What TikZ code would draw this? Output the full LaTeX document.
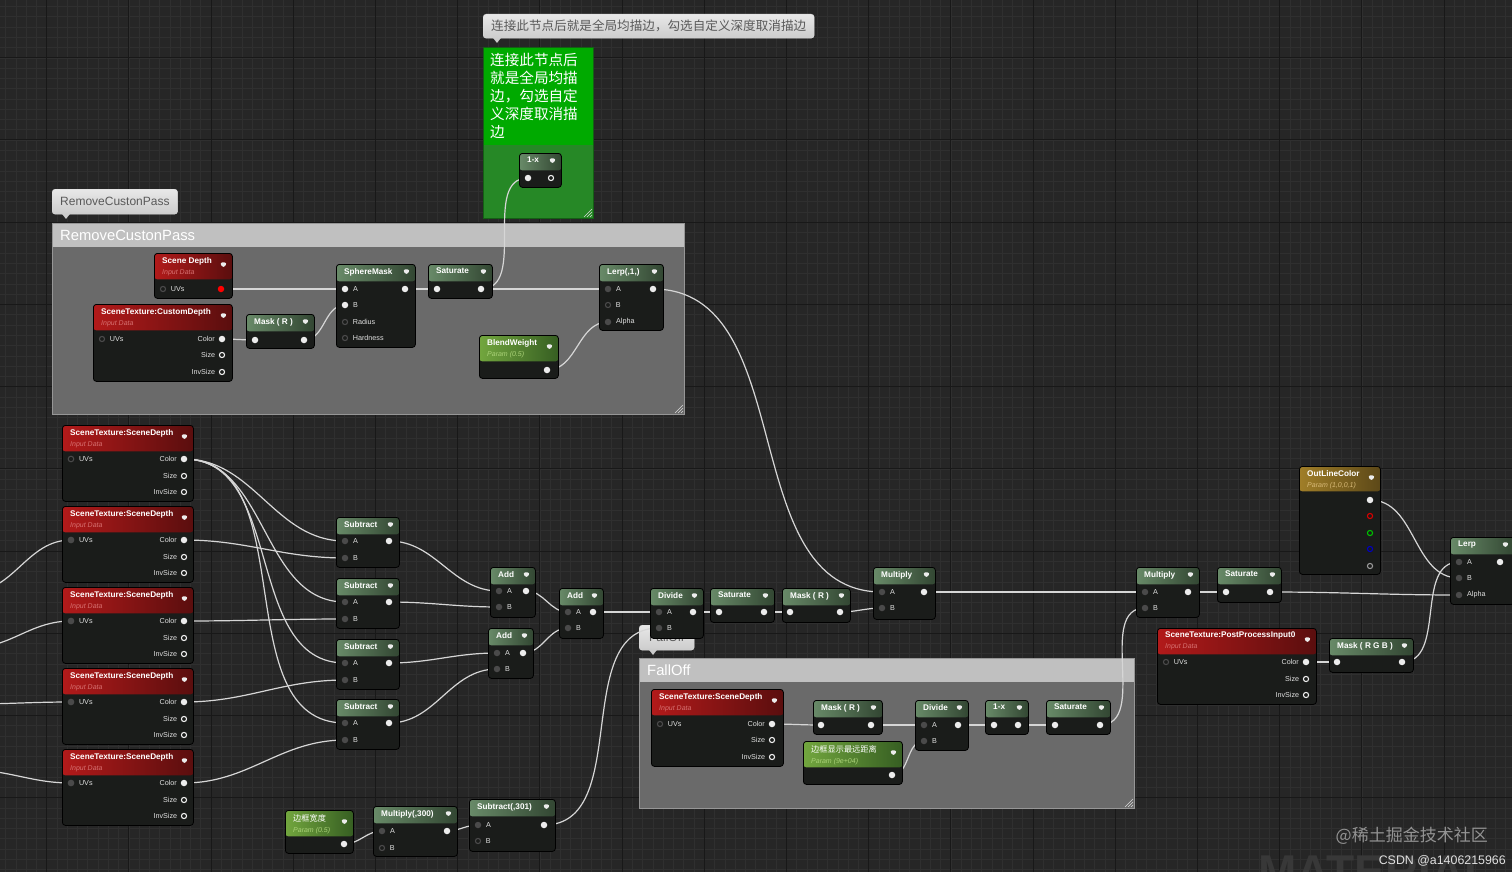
\documentclass[tikz,border=0pt]{standalone}
\usepackage{fontspec}
\setmainfont{Liberation Sans}
\newfontfamily\cjk{Noto Sans CJK SC}
\usetikzlibrary{positioning}

\pgfdeclarelayer{back}
\pgfdeclarelayer{wires}
\pgfsetlayers{back,wires,main}

% --- kleuren ---
\definecolor{bgc}{RGB}{38,38,38}
\definecolor{gridmin}{RGB}{47,47,47}
\definecolor{gridmaj}{RGB}{24,24,24}
\definecolor{nodebg}{RGB}{26,28,26}
\definecolor{mgL}{RGB}{104,138,104}
\definecolor{mgR}{RGB}{50,70,50}
\definecolor{rdL}{RGB}{178,26,26}
\definecolor{rdR}{RGB}{90,14,14}
\definecolor{pgL}{RGB}{114,166,62}
\definecolor{pgR}{RGB}{54,94,34}
\definecolor{gdL}{RGB}{160,126,40}
\definecolor{gdR}{RGB}{92,72,24}
\definecolor{subred}{RGB}{214,112,112}
\definecolor{subgrn}{RGB}{170,210,120}
\definecolor{subgld}{RGB}{216,186,120}
\definecolor{pinw}{RGB}{236,236,236}
\definecolor{pind}{RGB}{74,74,74}
\definecolor{wirec}{RGB}{214,214,214}
\definecolor{cmtbody}{RGB}{106,106,106}
\definecolor{cmthead}{RGB}{192,192,192}
\definecolor{cmtedge}{RGB}{150,150,150}
\definecolor{bubtop}{RGB}{232,232,232}
\definecolor{bubbot}{RGB}{204,204,204}
\definecolor{grnTop}{RGB}{0,170,0}
\definecolor{grnBot}{RGB}{38,136,38}
\definecolor{grnEdge}{RGB}{20,96,20}
\definecolor{wmark}{RGB}{56,56,56}

\newcommand{\ttlfnt}{\fontsize{8.2}{11}\selectfont\bfseries}
\newcommand{\subtfnt}{\fontsize{7}{11}\selectfont\mdseries\itshape}
\newcommand{\pinfnt}{\fontsize{7.2}{8}\selectfont}

\begin{document}
\begin{tikzpicture}[x=1pt, y=-1pt,
    % node lichaam + kop
    mbody/.style={rectangle, rounded corners=3pt, draw=black, line width=0.8pt, fill=nodebg,
                  anchor=north west, inner sep=0pt},
    hdr/.style n args={4}{path picture={
        \shade[left color=#2, right color=#3] (path picture bounding box.north west)
              rectangle ([yshift=-#1]path picture bounding box.north east);
        \fill[white!85!gray] ([xshift=-13pt,yshift=-#4]path picture bounding box.north east)
              -- ++(8pt,0pt) -- ++(-4pt,-6pt) -- cycle;}},
    mathnode/.style={mbody, hdr={17pt}{mgL}{mgR}{5pt}},
    texnode/.style={mbody, hdr={26pt}{rdL}{rdR}{9pt}},
    parnode/.style={mbody, hdr={26pt}{pgL}{pgR}{9pt}},
    vecnode/.style={mbody, hdr={25pt}{gdL}{gdR}{9pt}},
    ttlbox/.style={anchor=north west, inner sep=0pt, xshift=8pt, yshift=-4pt, font=\ttlfnt,
                   text=white, align=left},
    ttl/.style={label={[ttlbox]north west:{#1}}},
    ttl2/.style n args={3}{label={[ttlbox]north west:{#2\\\textcolor{#1}{\subtfnt #3}}}},
    % pinnen
    sock/.style={circle, inner sep=0pt, minimum size=6.5pt},
    sout/.style={sock, fill=pinw},
    south/.style={sock, draw=pinw, fill=nodebg, line width=1.1pt, minimum size=5.2pt},
    sin/.style={sock, fill=pind},
    sinw/.style={sock, fill=pinw},
    sinh/.style={sock, draw=pind, fill=nodebg, line width=1.1pt, minimum size=5.2pt},
    plblr/.style={anchor=west, inner sep=0pt, xshift=4.5pt, font=\pinfnt, text=white!88!black},
    plbll/.style={anchor=east, inner sep=0pt, xshift=-3.5pt, font=\pinfnt, text=white!88!black},
    inl/.style={label={[plblr]east:{#1}}},
    outl/.style={label={[plbll]west:{#1}}},
    % commentaar
    grpbox/.style={rectangle, anchor=north west, inner sep=0pt, draw=cmtedge, line width=1pt,
                   fill=cmtbody, path picture={\fill[cmthead] (path picture bounding box.north west)
                   rectangle ([yshift=-23pt]path picture bounding box.north east);}},
    grpttl/.style={label={[anchor=north west, inner sep=0pt, xshift=8pt, yshift=-7pt,
                   font=\fontsize{14.8}{16}\selectfont, text=white]north west:{#1}}},
    bubble/.style={rectangle, rounded corners=3pt, top color=bubtop, bottom color=bubbot,
                   draw=white!75!gray, anchor=north west, inner xsep=8pt, minimum height=25pt,
                   font=\fontsize{12}{13}\selectfont, text=black!65},
    gcom/.style={rectangle, anchor=north west, inner sep=0pt, fill=grnBot, draw=grnEdge, line width=1pt,
                 path picture={\fill[grnTop] (path picture bounding box.north west)
                 rectangle ([yshift=-98pt]path picture bounding box.north east);}},
    grip/.style={white!70!gray, line width=0.5pt},
    wire/.style={draw=wirec, line width=1.2pt}
]

\useasboundingbox (0,0) rectangle (1512,872);
\clip (0,0) rectangle (1512,872);

% --- achtergrond + raster ---
\begin{pgfonlayer}{back}
\fill[bgc] (0,0) rectangle (1512,872);
\foreach \i in {0,...,147} \draw[gridmin, line width=0.5pt] (5.5+\i*10.275,0) -- ++(0,872);
\foreach \i in {0,...,85} \draw[gridmin, line width=0.5pt] (0,6.4+\i*10.275) -- ++(1512,0);
\foreach \i in {0,...,18} \draw[gridmaj, line width=1pt] (46.6+\i*82.2,0) -- ++(0,872);
\foreach \i in {0,...,10} \draw[gridmaj, line width=1pt] (0,57.8+\i*82.2) -- ++(1512,0);

% --- commentaarblokken ---
\node[grpbox, minimum width=632pt, minimum height=191pt, grpttl=RemoveCustonPass] (grpRC) at (52,223) {};
\node[grpbox, minimum width=495pt, minimum height=150pt, grpttl=FallOff] (grpFO) at (639,658) {};
\node[gcom, minimum width=110pt, minimum height=171pt,
      label={[anchor=north west, inner sep=0pt, xshift=7pt, yshift=-6pt, text=white, align=left,
              font=\cjk\fontsize{14.6}{18}\selectfont]north west:{连接此节点后\\就是全局均描\\边，勾选自定\\义深度取消描\\边}}] (gcmt) at (483,47) {};
\foreach \g in {grpRC,grpFO,gcmt}
  \foreach \k in {4,7,10} \draw[grip] ([xshift=-\k pt, yshift=2pt]\g.south east) -- ([xshift=-2pt, yshift=\k pt]\g.south east);

\node[bubble] (bubRC) at (52,189) {RemoveCustonPass};
\node[bubble, minimum width=55pt] (bubFO) at (639,625) {FallOff};
\node[bubble, font=\cjk\fontsize{12.6}{15}\selectfont, minimum height=24pt] (bubTop) at (483,14) {连接此节点后就是全局均描边，勾选自定义深度取消描边};
\foreach \b in {bubRC,bubFO,bubTop}
  \fill[bubbot] ([xshift=10pt, yshift=0.5pt]\b.south west) -- ++(8pt,0pt) -- ++(-4pt,-5pt) -- cycle;
\end{pgfonlayer}

% --- RemoveCustonPass ---
\node[texnode, minimum width=78pt, minimum height=45pt, ttl2={subred}{Scene Depth}{Input Data}] (sdep) at (154,253) {};
\node[sinh, inl=UVs] (sdepu) at (163,289) {};
\node[sock, fill=red] (sdepo) at (221,289) {};

\node[texnode, minimum width=139pt, minimum height=77pt, ttl2={subred}{SceneTexture:CustomDepth}{Input Data}] (cdep) at (93,304) {};
\node[sinh, inl=UVs] (cdepu) at (102,339) {};
\node[sout, outl=Color] (cdepc) at (222,339) {};
\node[south, outl=Size] (cdeps) at (222,355) {};
\node[south, outl=InvSize] (cdepi) at (222,372) {};

\node[mathnode, minimum width=68pt, minimum height=34pt, ttl={Mask ( R )}] (mskr) at (246,314) {};
\node[sinw] (mskri) at (255,340) {};
\node[sout] (mskro) at (304,340) {};

\node[mathnode, minimum width=79pt, minimum height=83pt, ttl=SphereMask] (sphm) at (336,264) {};
\node[sinw, inl=A] (sphma) at (345,289) {};
\node[sinw, inl=B] (sphmb) at (345,305) {};
\node[sinh, inl=Radius] (sphmr) at (345,322) {};
\node[sinh, inl=Hardness] (sphmh) at (345,338) {};
\node[sout] (sphmo) at (405,289) {};

\node[mathnode, minimum width=64pt, minimum height=34pt, ttl=Saturate] (satA) at (428,264) {};
\node[sinw] (satAi) at (437,289) {};
\node[sout] (satAo) at (481,289) {};

\node[mathnode, minimum width=64pt, minimum height=66pt, ttl={Lerp(,1,)}] (lerpA) at (599,264) {};
\node[sin, inl=A] (lerpAa) at (608,289) {};
\node[sinh, inl=B] (lerpAb) at (608,305) {};
\node[sin, inl=Alpha] (lerpAal) at (608,322) {};
\node[sout] (lerpAo) at (653,289) {};

\node[parnode, minimum width=79pt, minimum height=43pt, ttl2={subgrn}{BlendWeight}{Param (0.5)}] (bw) at (479,335) {};
\node[sout] (bwo) at (547,370) {};

\node[mathnode, minimum width=42pt, minimum height=34pt, ttl=1-x] (omx) at (519,153) {};
\node[sinw] (omxi) at (528,178) {};
\node[south] (omxo) at (551,178) {};

% --- SceneDepth kolom ---
\foreach \n/\t/\uf in {1/425/nodebg,2/506/pind,3/587/pind,4/668/pind,5/749/pind} {
  \node[texnode, minimum width=131pt, minimum height=76pt, ttl2={subred}{SceneTexture:SceneDepth}{Input Data}] (sd\n) at (62,\t) {};
  \node[sock, fill=\uf, draw=pind, line width=1pt, minimum size=5.6pt, inl=UVs] (sd\n u) at (71,\t+34) {};
  \node[sout, outl=Color] (sd\n c) at (184,\t+34) {};
  \node[south, outl=Size] (sd\n s) at (184,\t+51) {};
  \node[south, outl=InvSize] (sd\n i) at (184,\t+67) {};
}

\foreach \n/\t in {1/517,2/578,3/639,4/699} {
  \node[mathnode, minimum width=63pt, minimum height=50pt, ttl=Subtract] (sub\n) at (336,\t) {};
  \node[sin, inl=A] (sub\n a) at (345,\t+24) {};
  \node[sin, inl=B] (sub\n b) at (345,\t+41) {};
  \node[sout] (sub\n o) at (389,\t+24) {};
}

\node[mathnode, minimum width=45pt, minimum height=50pt, ttl=Add] (add1) at (490,567) {};
\node[sin, inl=A] (add1a) at (499,591) {};
\node[sin, inl=B] (add1b) at (499,607) {};
\node[sout] (add1o) at (526,591) {};

\node[mathnode, minimum width=45pt, minimum height=50pt, ttl=Add] (add2) at (488,628) {};
\node[sin, inl=A] (add2a) at (497,653) {};
\node[sin, inl=B] (add2b) at (497,669) {};
\node[sout] (add2o) at (523,653) {};

\node[mathnode, minimum width=44pt, minimum height=50pt, ttl=Add] (add3) at (559,588) {};
\node[sin, inl=A] (add3a) at (568,612) {};
\node[sin, inl=B] (add3b) at (568,628) {};
\node[sout] (add3o) at (593,612) {};

\node[mathnode, minimum width=53pt, minimum height=50pt, ttl=Divide] (divA) at (650,588) {};
\node[sin, inl=A] (divAa) at (659,612) {};
\node[sin, inl=B] (divAb) at (659,628) {};
\node[sout] (divAo) at (693,612) {};

\node[mathnode, minimum width=64pt, minimum height=34pt, ttl=Saturate] (satB) at (710,588) {};
\node[sinw] (satBi) at (719,612) {};
\node[sout] (satBo) at (764,612) {};

\node[mathnode, minimum width=68pt, minimum height=34pt, ttl={Mask ( R )}] (mskB) at (782,588) {};
\node[sinw] (mskBi) at (790,612) {};
\node[sout] (mskBo) at (840,612) {};

\node[mathnode, minimum width=62pt, minimum height=52pt, ttl=Multiply] (mulA) at (873,567) {};
\node[sin, inl=A] (mulAa) at (882,592) {};
\node[sin, inl=B] (mulAb) at (882,608) {};
\node[sout] (mulAo) at (924,592) {};

% --- onderaan: randbreedte ---
\node[parnode, minimum width=68pt, minimum height=43pt, ttl2={subgrn}{\cjk\mdseries 边框宽度}{Param (0.5)}] (bwid) at (285,810) {};
\node[sout] (bwido) at (344,844) {};

\node[mathnode, minimum width=84pt, minimum height=50pt, ttl={Multiply(,300)}] (mul300) at (373,806) {};
\node[sin, inl=A] (mul300a) at (382,831) {};
\node[sinh, inl=B] (mul300b) at (382,848) {};
\node[sout] (mul300o) at (447,831) {};

\node[mathnode, minimum width=86pt, minimum height=52pt, ttl={Subtract(,301)}] (sub301) at (469,799) {};
\node[sin, inl=A] (sub301a) at (478,825) {};
\node[sinh, inl=B] (sub301b) at (478,841) {};
\node[sout] (sub301o) at (544,825) {};

% --- FallOff ---
\node[texnode, minimum width=132pt, minimum height=77pt, ttl2={subred}{SceneTexture:SceneDepth}{Input Data}] (sdF) at (651,689) {};
\node[sinh, inl=UVs] (sdFu) at (660,724) {};
\node[sout, outl=Color] (sdFc) at (772,724) {};
\node[south, outl=Size] (sdFs) at (772,740) {};
\node[south, outl=InvSize] (sdFi) at (772,757) {};

\node[mathnode, minimum width=69pt, minimum height=34pt, ttl={Mask ( R )}] (mskF) at (813,700) {};
\node[sinw] (mskFi) at (821,725) {};
\node[sout] (mskFo) at (871,725) {};

\node[parnode, minimum width=99pt, minimum height=43pt, ttl2={subgrn}{\cjk\mdseries 边框显示最远距离}{Param (9e+04)}] (farP) at (803,741) {};
\node[sout] (farPo) at (892,775) {};

\node[mathnode, minimum width=53pt, minimum height=50pt, ttl=Divide] (divF) at (915,700) {};
\node[sin, inl=A] (divFa) at (924,725) {};
\node[sin, inl=B] (divFb) at (924,741) {};
\node[sout] (divFo) at (958,725) {};

\node[mathnode, minimum width=43pt, minimum height=34pt, ttl=1-x] (omxF) at (985,700) {};
\node[sinw] (omxFi) at (994,725) {};
\node[sout] (omxFo) at (1018,725) {};

\node[mathnode, minimum width=64pt, minimum height=34pt, ttl=Saturate] (satF) at (1046,700) {};
\node[sinw] (satFi) at (1055,725) {};
\node[sout] (satFo) at (1100,725) {};

% --- rechts: kleur mengen ---
\node[mathnode, minimum width=63pt, minimum height=50pt, ttl=Multiply] (mulB) at (1136,567) {};
\node[sin, inl=A] (mulBa) at (1145,592) {};
\node[sin, inl=B] (mulBb) at (1145,608) {};
\node[sout] (mulBo) at (1188,592) {};

\node[mathnode, minimum width=64pt, minimum height=35pt, ttl=Saturate] (satC) at (1217,567) {};
\node[sinw] (satCi) at (1226,592) {};
\node[sout] (satCo) at (1270,592) {};

\node[vecnode, minimum width=81pt, minimum height=108pt, ttl2={subgld}{OutLineColor}{Param (1,0,0,1)}] (olc) at (1299,466) {};
\node[sout] (olco) at (1370,500) {};
\node[south, draw=red!85!black] (olcr) at (1370,516) {};
\node[south, draw=green!75!black] (olcg) at (1370,533) {};
\node[south, draw=blue!75!black] (olcb) at (1370,549) {};
\node[south, draw=gray!80] (olca) at (1370,566) {};

\node[texnode, minimum width=159pt, minimum height=76pt, ttl2={subred}{SceneTexture:PostProcessInput0}{Input Data}] (ppi) at (1157,628) {};
\node[sinh, inl=UVs] (ppiu) at (1166,662) {};
\node[sout, outl=Color] (ppic) at (1306,662) {};
\node[south, outl=Size] (ppis) at (1306,679) {};
\node[south, outl=InvSize] (ppii) at (1306,695) {};

\node[mathnode, minimum width=84pt, minimum height=34pt, ttl={Mask ( R G B )}] (mrgb) at (1329,638) {};
\node[sinw] (mrgbi) at (1337,662) {};
\node[sout] (mrgbo) at (1402,662) {};

\node[mathnode, minimum width=64pt, minimum height=67pt, ttl=Lerp] (lerpB) at (1450,537) {};
\node[sin, inl=A] (lerpBa) at (1459,562) {};
\node[sin, inl=B] (lerpBb) at (1459,578) {};
\node[sin, inl=Alpha] (lerpBal) at (1459,595) {};
\node[sout] (lerpBo) at (1500,562) {};

% --- losse eindpunten buiten beeld ---
\coordinate (ext2) at (-30,592);
\coordinate (ext3) at (-30,648);
\coordinate (ext4) at (-30,704);
\coordinate (ext5) at (-30,770);
\coordinate (extR) at (1560,560);

% --- watermerken ---
\node[anchor=east, inner sep=0pt, font=\cjk\fontsize{17}{20}\selectfont, text=gray!85] (wm1) at (1488,836) {@稀土掘金技术社区};
\node[anchor=east, inner sep=0pt, font=\fontsize{12.4}{14}\selectfont, text=white!88!black] (wm2) at (1506,861) {CSDN @a1406215966};
\begin{pgfonlayer}{back}
\node[anchor=north west, inner sep=0pt, font=\bfseries\fontsize{46}{50}\selectfont, text=wmark] (wm3) at (1258,856) {MATERIAL};
\end{pgfonlayer}

% --- verbindingen ---
\begin{pgfonlayer}{wires}
\foreach \n in {1,...,4} \draw[wire] (sd1c.center) to[out=0,in=180] (sub\n a.center);
\foreach \a/\b in {ext2/sd2u, ext3/sd3u, ext4/sd4u, ext5/sd5u,
                   sd2c/sub1b, sd3c/sub2b, sd4c/sub3b, sd5c/sub4b,
                   sub1o/add1a, sub2o/add1b, sub3o/add2a, sub4o/add2b,
                   add1o/add3a, add2o/add3b, add3o/divAa, sub301o/divAb,
                   bwido/mul300a, mul300o/sub301a,
                   divAo/satBi, satBo/mskBi, mskBo/mulAb, lerpAo/mulAa,
                   sdepo/sphma, cdepc/mskri, mskro/sphmb, sphmo/satAi,
                   satAo/lerpAa, satAo/omxi, bwo/lerpAal,
                   sdFc/mskFi, mskFo/divFa, farPo/divFb, divFo/omxFi, omxFo/satFi,
                   mulAo/mulBa, satFo/mulBb, mulBo/satCi, satCo/lerpBal,
                   olco/lerpBb, ppic/mrgbi, mrgbo/lerpBa, lerpBo/extR}
  \draw[wire] (\a.center) to[out=0,in=180] (\b.center);
\end{pgfonlayer}

\end{tikzpicture}
\end{document}
